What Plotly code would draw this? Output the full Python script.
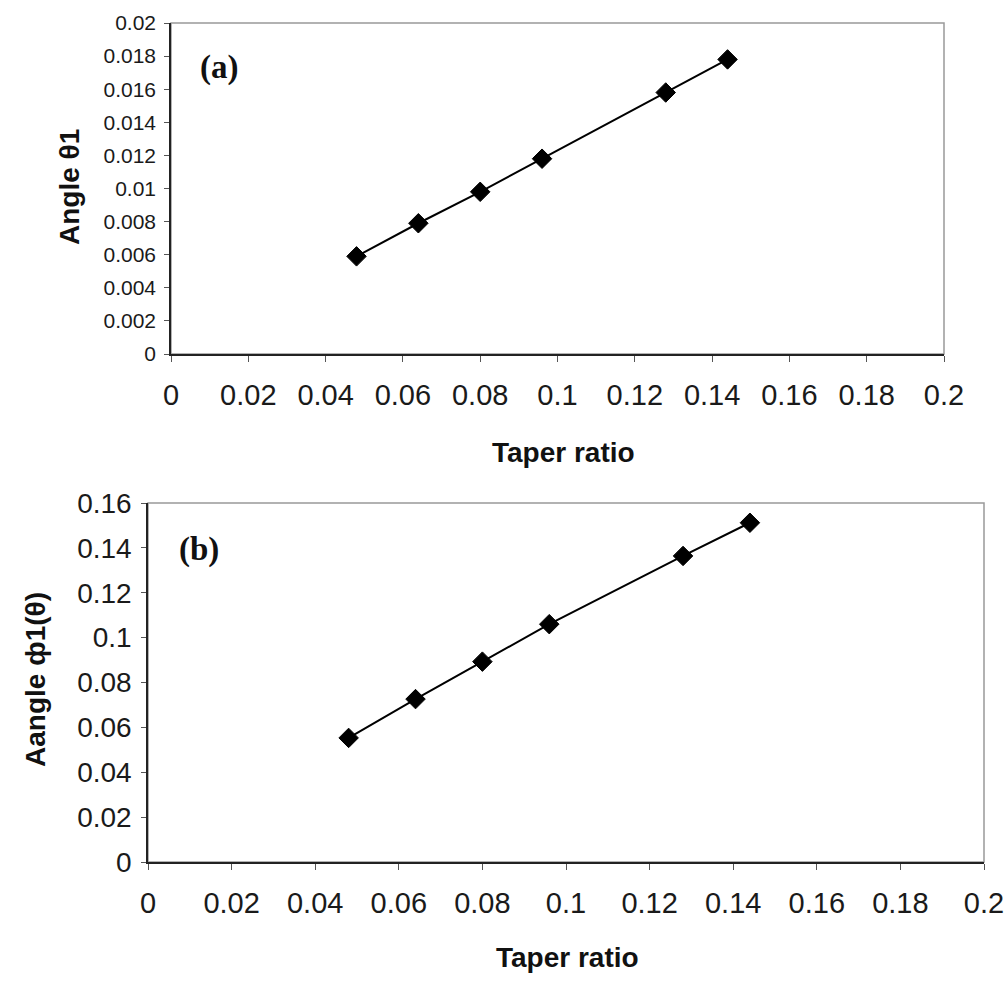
import plotly.graph_objects as go

# ---- data ----
taper_ratio = [0.048, 0.064, 0.080, 0.096, 0.128, 0.144]
angle_theta1 = [0.0059, 0.0079, 0.0098, 0.0118, 0.0158, 0.0178]
angle_phi1 = [0.0553, 0.0726, 0.0893, 0.1060, 0.1364, 0.1512]

x_tick_vals = [0, 0.02, 0.04, 0.06, 0.08, 0.1, 0.12, 0.14, 0.16, 0.18, 0.2]
x_tick_text = ["0", "0.02", "0.04", "0.06", "0.08", "0.1", "0.12", "0.14", "0.16", "0.18", "0.2"]
ya_tick_vals = [0, 0.002, 0.004, 0.006, 0.008, 0.01, 0.012, 0.014, 0.016, 0.018, 0.02]
ya_tick_text = ["0", "0.002", "0.004", "0.006", "0.008", "0.01", "0.012", "0.014", "0.016", "0.018", "0.02"]
yb_tick_vals = [0, 0.02, 0.04, 0.06, 0.08, 0.1, 0.12, 0.14, 0.16]
yb_tick_text = ["0", "0.02", "0.04", "0.06", "0.08", "0.1", "0.12", "0.14", "0.16"]

W, H = 1004, 987
SANS = "Liberation Sans, Arial, sans-serif"
SERIF = "Liberation Serif, Times New Roman, serif"

def px_x(p):
    return p / W

def px_y(p):
    return 1 - p / H

fig = go.Figure()
marker = dict(symbol="diamond", size=15, color="black", line=dict(color="black", width=1))
fig.add_trace(go.Scatter(x=taper_ratio, y=angle_theta1, mode="lines+markers",
                         line=dict(color="black", width=2), marker=marker,
                         xaxis="x", yaxis="y", showlegend=False))
fig.add_trace(go.Scatter(x=taper_ratio, y=angle_phi1, mode="lines+markers",
                         line=dict(color="black", width=2), marker=marker,
                         xaxis="x2", yaxis="y2", showlegend=False))

axis_common = dict(showgrid=False, zeroline=False, showline=True, linecolor="#222",
                   linewidth=1.5, ticks="outside", tickcolor="#555", tickwidth=1.2,
                   automargin=False, ticklabeloverflow="allow")

fig.update_layout(
    width=W, height=H,
    margin=dict(l=0, r=0, t=0, b=0, pad=0, autoexpand=False),
    paper_bgcolor="white", plot_bgcolor="white",
    xaxis=dict(domain=[px_x(171), px_x(944)], range=[0, 0.2], anchor="y",
               tickvals=x_tick_vals, ticktext=x_tick_text, ticklen=6,
               tickfont=dict(family=SANS, size=29, color="#1a1a1a"),
               ticklabelstandoff=8, **axis_common),
    yaxis=dict(domain=[px_y(354), px_y(23)], range=[0, 0.02], anchor="x",
               tickvals=ya_tick_vals, ticktext=ya_tick_text, ticklen=5,
               tickfont=dict(family=SANS, size=21, color="#1a1a1a"),
               ticklabelstandoff=4, **axis_common),
    xaxis2=dict(domain=[px_x(148), px_x(984)], range=[0, 0.2], anchor="y2",
                tickvals=x_tick_vals, ticktext=x_tick_text, ticklen=6,
                tickfont=dict(family=SANS, size=29, color="#1a1a1a"),
                ticklabelstandoff=8, **axis_common),
    yaxis2=dict(domain=[px_y(862), px_y(503)], range=[0, 0.16], anchor="x2",
                tickvals=yb_tick_vals, ticktext=yb_tick_text, ticklen=5,
                tickfont=dict(family=SANS, size=28, color="#1a1a1a"),
                ticklabelstandoff=4, **axis_common),
)

# gray frame around each plot area
for xr, yr in (("x domain", "y domain"), ("x2 domain", "y2 domain")):
    fig.add_shape(type="rect", xref=xr, yref=yr, x0=0, x1=1, y0=0, y1=1,
                  line=dict(color="#999", width=1.5), layer="below")

# axis titles and panel labels
title_font = dict(family=SANS, size=28, color="#111")

def label(text, x, y, font, angle=0):
    fig.add_annotation(text=text, xref="paper", yref="paper", x=px_x(x), y=px_y(y),
                       xanchor="center", yanchor="middle", showarrow=False,
                       textangle=angle, font=font)

label("<b>Taper ratio</b>", 563, 452, title_font)
label("<b>Taper ratio</b>", 567, 957, title_font)
label("<b>Angle θ1</b>", 69, 187, title_font, -90)
label("<b>Aangle ф1(θ)</b>", 35, 680, title_font, -90)
label("<b>(a)</b>", 219, 68, dict(family=SERIF, size=33, color="#111"))
label("<b>(b)</b>", 199, 549, dict(family=SERIF, size=33, color="#111"))

fig.write_html("out.html")
